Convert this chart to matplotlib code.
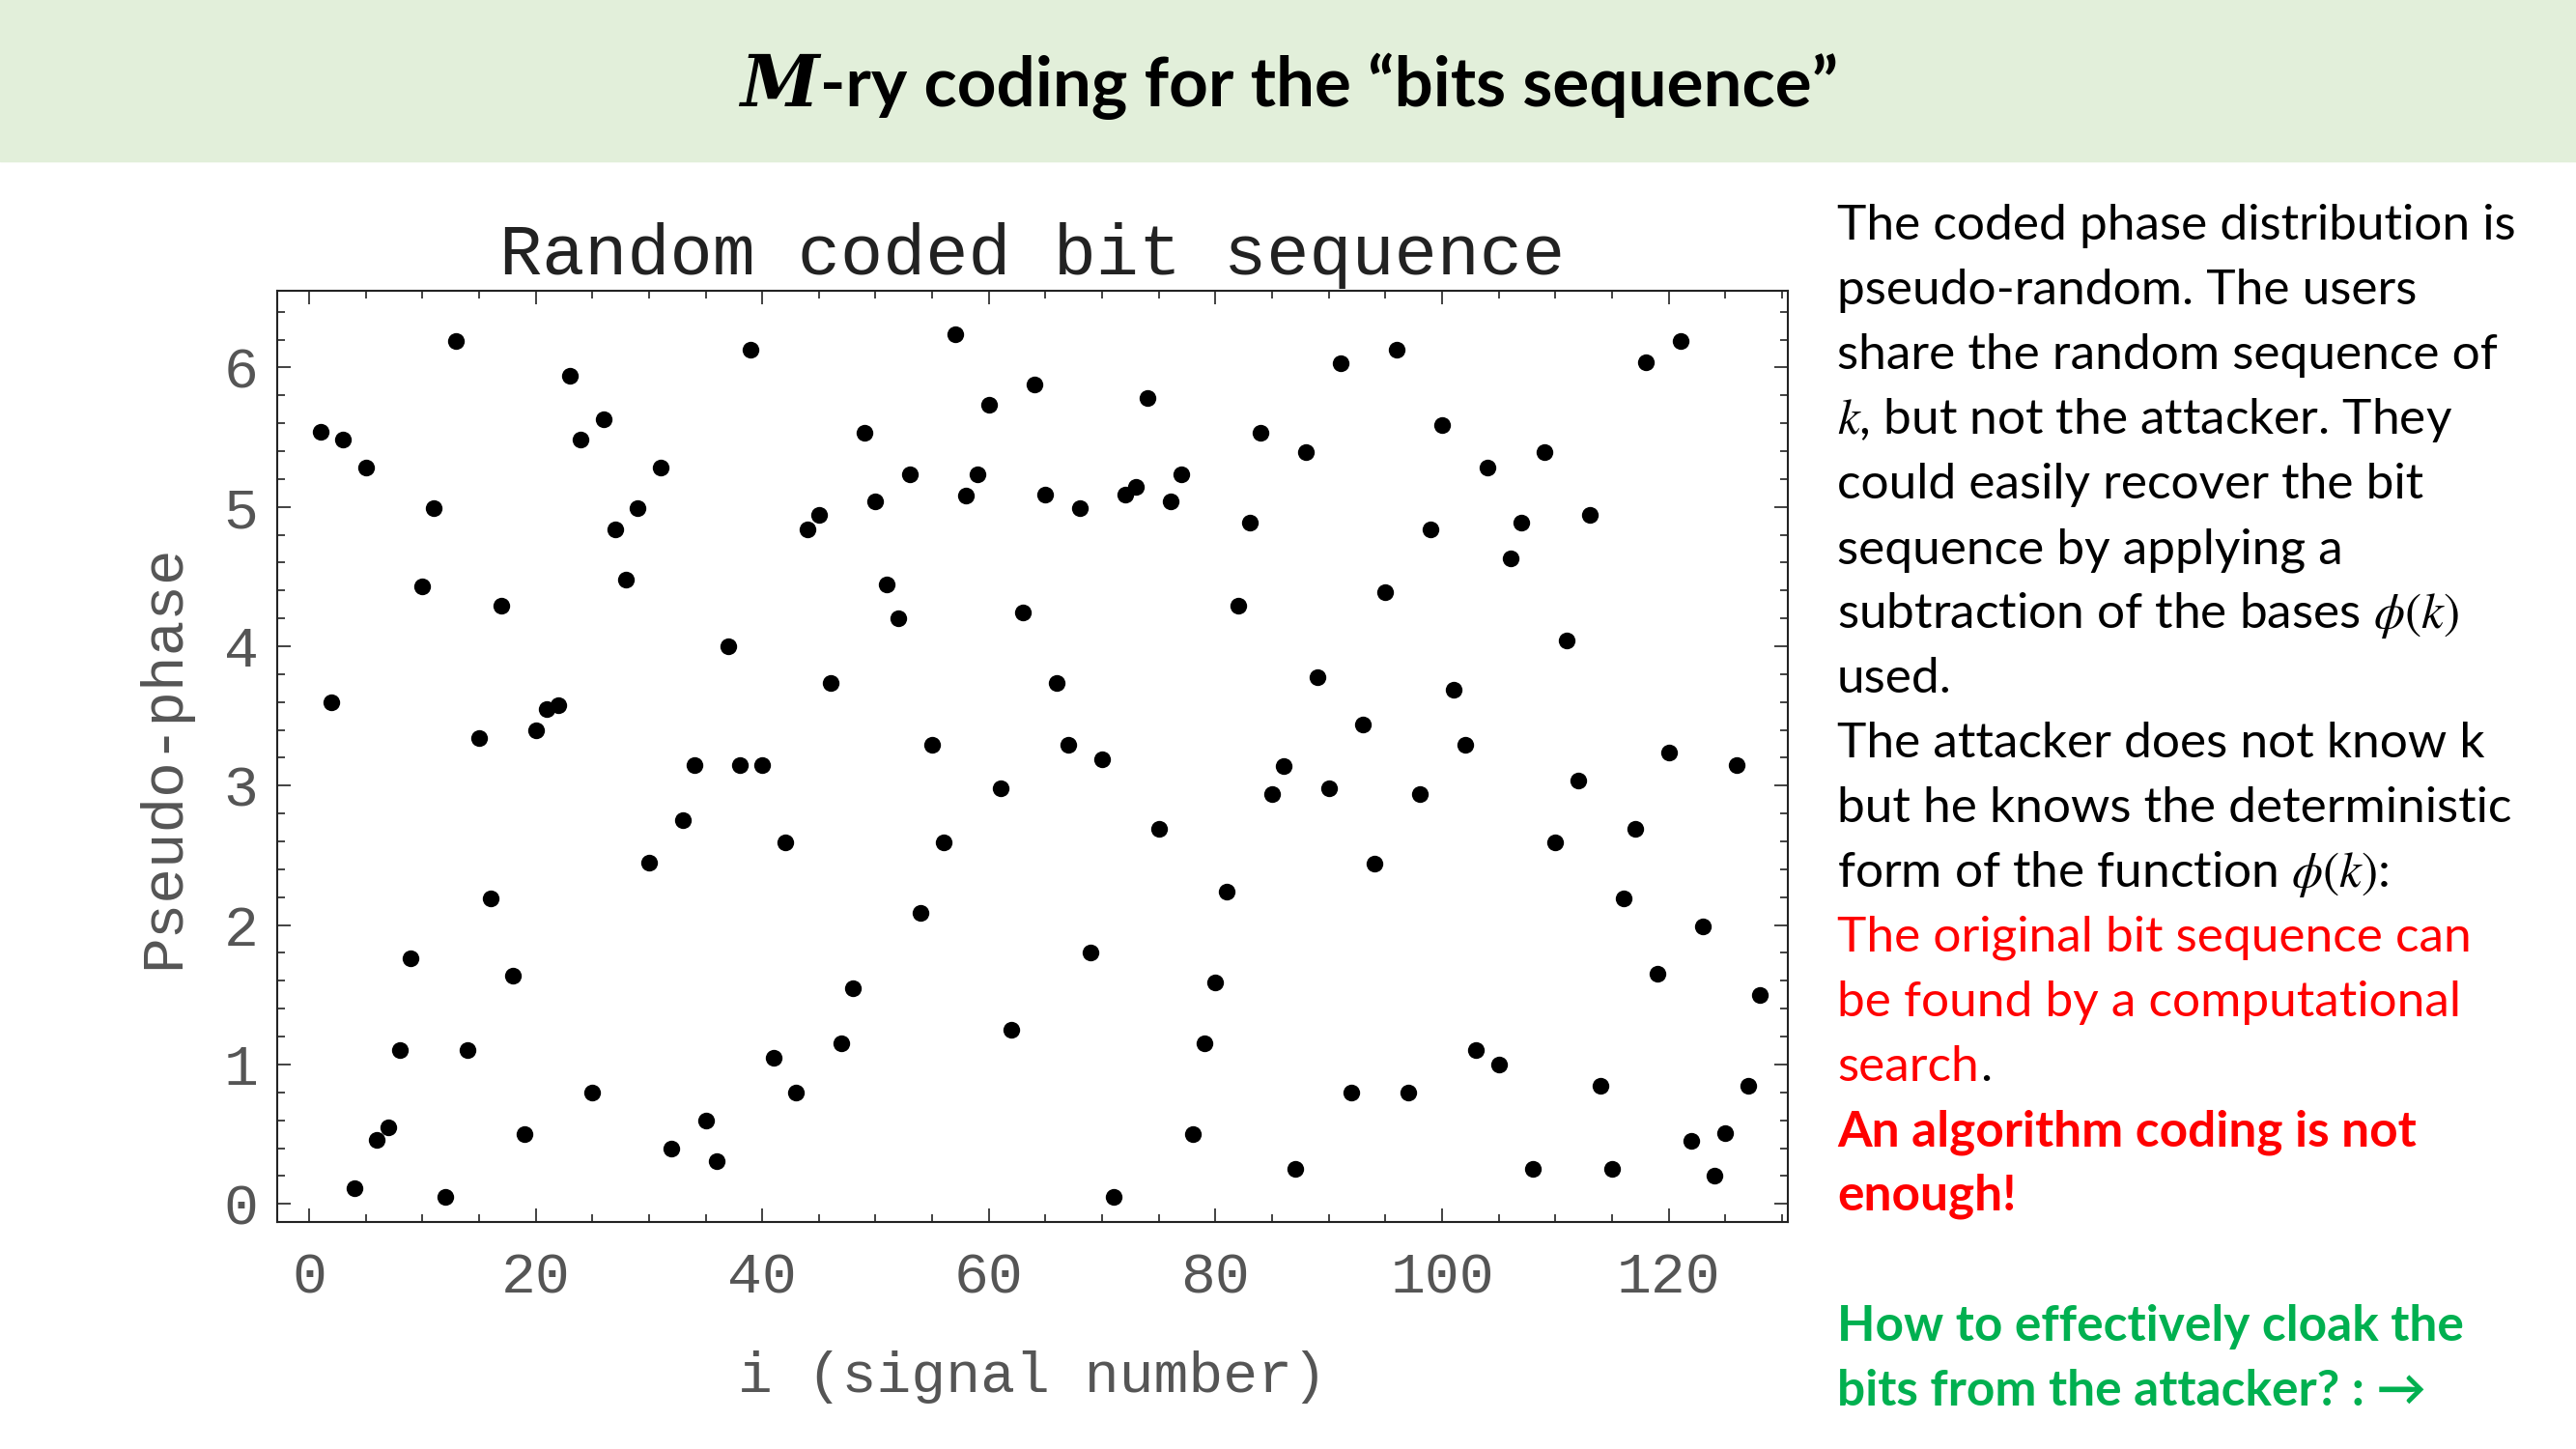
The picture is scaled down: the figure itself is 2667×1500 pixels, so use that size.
import matplotlib
matplotlib.use("Agg")
import matplotlib.pyplot as plt
from matplotlib.ticker import MultipleLocator

# signal index and pseudo-phase values
signal_i = list(range(1, 129))
phase = [
    5.54, 3.60, 5.48, 0.11, 5.28, 0.46, 0.55, 1.10, 1.76, 4.43,
    4.99, 0.05, 6.19, 1.10, 3.34, 2.19, 4.29, 1.64, 0.50, 3.40,
    3.55, 3.58, 5.94, 5.48, 0.80, 5.63, 4.84, 4.48, 4.99, 2.45,
    5.28, 0.40, 2.75, 3.15, 0.60, 0.31, 4.00, 3.15, 6.13, 3.15,
    1.05, 2.59, 0.80, 4.84, 4.94, 3.74, 1.15, 1.55, 5.53, 5.04,
    4.44, 4.20, 5.23, 2.09, 3.29, 2.59, 6.24, 5.08, 5.23, 5.73,
    2.98, 1.25, 4.24, 5.88, 5.09, 3.74, 3.29, 4.99, 1.80, 3.19,
    0.05, 5.09, 5.14, 5.78, 2.69, 5.04, 5.23, 0.50, 1.15, 1.59,
    2.24, 4.29, 4.89, 5.53, 2.94, 3.14, 0.25, 5.39, 3.78, 2.98,
    6.03, 0.80, 3.44, 2.44, 4.39, 6.13, 0.80, 2.94, 4.84, 5.59,
    3.69, 3.29, 1.10, 5.28, 1.00, 4.63, 4.89, 0.25, 5.39, 2.59,
    4.04, 3.04, 4.94, 0.85, 0.25, 2.19, 2.69, 6.04, 1.65, 3.24,
    6.19, 0.45, 1.99, 0.20, 0.51, 3.15, 0.85, 1.50,
]

W, H = 2667, 1500
fig = plt.figure(figsize=(W / 100, H / 100), dpi=100)
plt.rcParams['mathtext.fontset'] = 'stix'
renderer = fig.canvas.get_renderer()

# slide header band
fig.patches.append(plt.Rectangle((0, 1 - 167 / H), 1, 167 / H, transform=fig.transFigure,
                                 color='#E2EFDA', zorder=0))

# header title: italic M followed by the rest
title_rest = '-ry coding for the \u201cbits sequence\u201d'
tsize = 51
m_txt = fig.text(0, 1 - 110 / H, 'M', fontsize=tsize + 2, family='DejaVu Serif',
                 style='italic', weight='bold', va='baseline', ha='left')
r_txt = fig.text(0, 1 - 110 / H, title_rest, fontsize=tsize, family='Lato',
                 weight='bold', va='baseline', ha='left')
mw = m_txt.get_window_extent(renderer).width
rw = r_txt.get_window_extent(renderer).width
x0 = (W - mw - rw) / 2
m_txt.set_x(x0 / W)
r_txt.set_x((x0 + mw + 2) / W)

# main chart
mono = 'Liberation Mono'
ax = fig.add_axes([287 / W, 1 - 1265 / H, (1851 - 287) / W, (1265 - 301) / H])
ax.plot(signal_i, phase, 'o', color='black', markersize=12.5, markeredgewidth=0)
ax.set_xlim(-2.8, 130.5)
ax.set_ylim(-0.13, 6.55)
ax.xaxis.set_major_locator(MultipleLocator(20))
ax.xaxis.set_minor_locator(MultipleLocator(5))
ax.yaxis.set_major_locator(MultipleLocator(1))
ax.yaxis.set_minor_locator(MultipleLocator(0.2))
ax.tick_params(which='both', direction='in', top=True, right=True, color='#222222', width=1.2)
ax.tick_params(which='major', length=10)
ax.tick_params(which='minor', length=6)
ax.tick_params(axis='x', which='major', pad=22)
ax.tick_params(axis='y', which='major', pad=14)
for lab in ax.get_xticklabels() + ax.get_yticklabels():
    lab.set_family(mono)
    lab.set_fontsize(43)
    lab.set_color('#555555')
for s in ax.spines.values():
    s.set_linewidth(1.5)
    s.set_color('#222222')
ax.set_title('Random coded bit sequence', family=mono, fontsize=53, color='#222222', pad=12)
ax.set_xlabel('i (signal number)', family=mono, fontsize=43, color='#555555', labelpad=34)
ax.set_ylabel('Pseudo-phase', family=mono, fontsize=44, color='#555555', labelpad=24)

# right-hand slide text
tx = 1902 / W
fs = 37
lines = [
    ('The coded phase distribution is', 'black', 'normal'),
    ('pseudo-random. The users', 'black', 'normal'),
    ('share the random sequence of', 'black', 'normal'),
    (r'$k$, but not the attacker. They', 'black', 'normal'),
    ('could easily recover the bit', 'black', 'normal'),
    ('sequence by applying a', 'black', 'normal'),
    (r'subtraction of the bases $\phi(k)$', 'black', 'normal'),
    ('used.', 'black', 'normal'),
    ('The attacker does not know k', 'black', 'normal'),
    ('but he knows the deterministic', 'black', 'normal'),
    (r'form of the function $\phi(k)$:', 'black', 'normal'),
    ('The original bit sequence can', '#FF0000', 'normal'),
    ('be found by a computational', '#FF0000', 'normal'),
    ('search', '#FF0000', 'normal'),
    ('An algorithm coding is not', '#FF0000', 'bold'),
    ('enough!', '#FF0000', 'bold'),
]
for k, (txt, col, wt) in enumerate(lines):
    y = 1 - (248 + 67 * k) / H
    t = fig.text(tx, y, txt, fontsize=fs, family='Lato', color=col, weight=wt, va='baseline')
    if txt == 'search':
        sw = t.get_window_extent(renderer).width
        fig.text(tx + (sw + 1) / W, y, '.', fontsize=fs, family='Lato', color='black',
                 va='baseline')

green = '#00B050'
fig.text(tx, 1 - 1388 / H, 'How to effectively cloak the', fontsize=fs, family='Lato',
         color=green, weight='bold', va='baseline')
fig.text(tx, 1 - 1455 / H, 'bits from the attacker? : \u2192', fontsize=fs,
         family=['Lato', 'DejaVu Sans'], color=green, weight='bold', va='baseline')

fig.savefig('out.png', dpi=100, facecolor='white')
